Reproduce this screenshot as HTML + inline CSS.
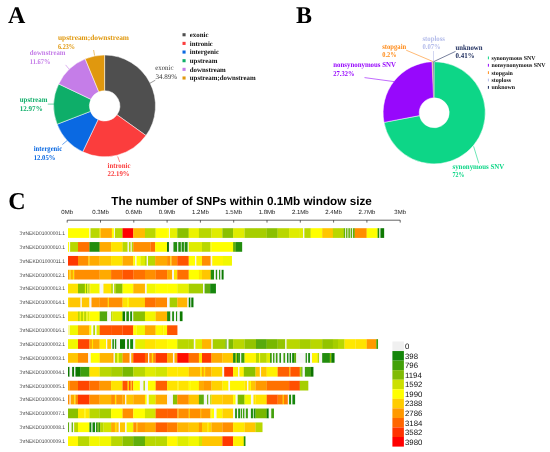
<!DOCTYPE html>
<html lang="en"><head><meta charset="utf-8"><title>SNP annotation and density</title>
<style>html,body{margin:0;padding:0;background:#fff}body{width:550px;height:452px;overflow:hidden}svg{display:block}text{text-rendering:geometricPrecision}.sb{font-family:'Liberation Serif','Times New Roman',serif;font-weight:bold}.sr{font-family:'Liberation Serif','Times New Roman',serif}.ss{font-family:'Liberation Sans',Arial,Helvetica,sans-serif}</style></head><body>
<svg width="550" height="452" viewBox="0 0 550 452">
<rect width="550" height="452" fill="#fff"/>
<text class="sb" x="8.0" y="22.5" font-size="24" fill="#000">A</text>
<text class="sb" x="296.0" y="22.5" font-size="24" fill="#000">B</text>
<text class="sb" x="8.3" y="208.6" font-size="24" fill="#000">C</text>
<g id="pieA">
<path d="M104.60 55.00A50.90 50.90 0 0 1 145.98 135.53L116.96 114.75A15.20 15.20 0 0 0 104.60 90.70Z" fill="#4f4f4f" stroke="#fff" stroke-width="0.5"/>
<path d="M145.98 135.53A50.90 50.90 0 0 1 82.70 151.85L98.06 119.62A15.20 15.20 0 0 0 116.96 114.75Z" fill="#fb3d3d" stroke="#fff" stroke-width="0.5"/>
<path d="M82.70 151.85A50.90 50.90 0 0 1 57.12 124.25L90.42 111.38A15.20 15.20 0 0 0 98.06 119.62Z" fill="#0a69e2" stroke="#fff" stroke-width="0.5"/>
<path d="M57.12 124.25A50.90 50.90 0 0 1 58.68 83.94L90.89 99.34A15.20 15.20 0 0 0 90.42 111.38Z" fill="#0eae69" stroke="#fff" stroke-width="0.5"/>
<path d="M58.68 83.94A50.90 50.90 0 0 1 85.18 58.85L98.80 91.85A15.20 15.20 0 0 0 90.89 99.34Z" fill="#c57de8" stroke="#fff" stroke-width="0.5"/>
<path d="M85.18 58.85A50.90 50.90 0 0 1 104.60 55.00L104.60 90.70A15.20 15.20 0 0 0 98.80 91.85Z" fill="#e0980e" stroke="#fff" stroke-width="0.5"/>
<line x1="150.0" y1="83.2" x2="155.3" y2="80.2" stroke="#555" stroke-width="0.6"/>
<line x1="93.6" y1="50.0" x2="94.6" y2="55.6" stroke="#e0980e" stroke-width="0.6"/>
<line x1="65.6" y1="64.9" x2="68.9" y2="68.9" stroke="#c57de8" stroke-width="0.6"/>
<line x1="47.8" y1="104.1" x2="54.0" y2="104.1" stroke="#0eae69" stroke-width="0.6"/>
<line x1="62.3" y1="144.6" x2="67.6" y2="140.2" stroke="#0a69e2" stroke-width="0.6"/>
<line x1="117.7" y1="156.5" x2="119.7" y2="162.0" stroke="#fb3d3d" stroke-width="0.6"/>
<text class="sr" x="155.2" y="69.9" font-size="7.10" fill="#3a3a3a" textLength="18.3" lengthAdjust="spacingAndGlyphs">exonic</text>
<text class="sr" x="155.4" y="78.6" font-size="7.10" fill="#3a3a3a" textLength="21.8" lengthAdjust="spacingAndGlyphs">34.89%</text>
<text class="sb" x="58.0" y="39.9" font-size="7.50" fill="#e0980e" textLength="71.0" lengthAdjust="spacingAndGlyphs">upstream;downstream</text>
<text class="sb" x="58.0" y="48.5" font-size="7.40" fill="#e0980e" textLength="17.0" lengthAdjust="spacingAndGlyphs">6.23%</text>
<text class="sb" x="29.8" y="55.0" font-size="7.40" fill="#c57de8" textLength="35.7" lengthAdjust="spacingAndGlyphs">downstream</text>
<text class="sb" x="29.8" y="64.0" font-size="7.40" fill="#c57de8" textLength="20.7" lengthAdjust="spacingAndGlyphs">11.67%</text>
<text class="sb" x="19.8" y="101.7" font-size="7.40" fill="#0eae69" textLength="27.7" lengthAdjust="spacingAndGlyphs">upstream</text>
<text class="sb" x="19.8" y="110.9" font-size="7.40" fill="#0eae69" textLength="22.9" lengthAdjust="spacingAndGlyphs">12.97%</text>
<text class="sb" x="33.7" y="150.5" font-size="7.40" fill="#0a69e2" textLength="28.4" lengthAdjust="spacingAndGlyphs">intergenic</text>
<text class="sb" x="33.7" y="159.6" font-size="7.40" fill="#0a69e2" textLength="21.8" lengthAdjust="spacingAndGlyphs">12.05%</text>
<text class="sb" x="107.5" y="167.5" font-size="7.40" fill="#fb3d3d" textLength="22.9" lengthAdjust="spacingAndGlyphs">intronic</text>
<text class="sb" x="107.5" y="175.7" font-size="7.40" fill="#fb3d3d" textLength="22.2" lengthAdjust="spacingAndGlyphs">22.19%</text>
<rect x="182.5" y="33.20" width="3.1" height="3.1" fill="#4f4f4f"/>
<text class="sb" x="189.8" y="37.00" font-size="6.85" fill="#111">exonic</text>
<rect x="182.5" y="41.85" width="3.1" height="3.1" fill="#fb3d3d"/>
<text class="sb" x="189.8" y="45.65" font-size="6.85" fill="#111">intronic</text>
<rect x="182.5" y="50.50" width="3.1" height="3.1" fill="#0a69e2"/>
<text class="sb" x="189.8" y="54.30" font-size="6.85" fill="#111">intergenic</text>
<rect x="182.5" y="59.15" width="3.1" height="3.1" fill="#0eae69"/>
<text class="sb" x="189.8" y="62.95" font-size="6.85" fill="#111">upstream</text>
<rect x="182.5" y="67.80" width="3.1" height="3.1" fill="#c57de8"/>
<text class="sb" x="189.8" y="71.60" font-size="6.85" fill="#111">downstream</text>
<rect x="182.5" y="76.45" width="3.1" height="3.1" fill="#e0980e"/>
<text class="sb" x="189.8" y="80.25" font-size="6.85" fill="#111">upstream;downstream</text>
</g>
<g id="pieB">
<path d="M434.20 61.70A51.10 51.10 0 1 1 384.01 122.38L419.47 115.61A15.00 15.00 0 1 0 434.20 97.80Z" fill="#0dd687" stroke="#fff" stroke-width="0.5"/>
<path d="M384.01 122.38A51.10 51.10 0 0 1 432.02 61.75L433.56 97.81A15.00 15.00 0 0 0 419.47 115.61Z" fill="#9708fc" stroke="#fff" stroke-width="0.5"/>
<path d="M432.02 61.75A51.10 51.10 0 0 1 432.66 61.72L433.75 97.81A15.00 15.00 0 0 0 433.56 97.81Z" fill="#ff8c1a" stroke="#fff" stroke-width="0" fill-opacity="0.5"/>
<path d="M432.66 61.72A51.10 51.10 0 0 1 432.88 61.72L433.81 97.80A15.00 15.00 0 0 0 433.75 97.81Z" fill="#b4bcea" stroke="#fff" stroke-width="0" fill-opacity="0.5"/>
<path d="M432.88 61.72A51.10 51.10 0 0 1 434.20 61.70L434.20 97.80A15.00 15.00 0 0 0 433.81 97.80Z" fill="#1c2b5c" stroke="#fff" stroke-width="0" fill-opacity="0.5"/>
<line x1="406.2" y1="50.2" x2="433.3" y2="61.7" stroke="#ff8c1a" stroke-width="0.6"/>
<line x1="433.5" y1="51.0" x2="433.5" y2="61.8" stroke="#b4bcea" stroke-width="0.6"/>
<line x1="455.5" y1="51.4" x2="433.6" y2="61.7" stroke="#1c2b5c" stroke-width="0.6"/>
<line x1="364.5" y1="77.6" x2="394.0" y2="81.6" stroke="#9708fc" stroke-width="0.6"/>
<line x1="473.6" y1="146.3" x2="478.8" y2="163.3" stroke="#0dd687" stroke-width="0.6"/>
<text class="sb" x="382.2" y="48.7" font-size="7.50" fill="#ff8c1a" textLength="24.0" lengthAdjust="spacingAndGlyphs">stopgain</text>
<text class="sb" x="382.2" y="56.6" font-size="7.50" fill="#ff8c1a" textLength="14.4" lengthAdjust="spacingAndGlyphs">0.2%</text>
<text class="sb" x="422.4" y="40.5" font-size="7.50" fill="#b4bcea" textLength="22.5" lengthAdjust="spacingAndGlyphs">stoploss</text>
<text class="sb" x="422.4" y="49.0" font-size="7.50" fill="#b4bcea" textLength="18.4" lengthAdjust="spacingAndGlyphs">0.07%</text>
<text class="sb" x="455.5" y="49.9" font-size="7.50" fill="#1c2b5c" textLength="27.0" lengthAdjust="spacingAndGlyphs">unknown</text>
<text class="sb" x="455.5" y="57.6" font-size="7.50" fill="#1c2b5c" textLength="19.1" lengthAdjust="spacingAndGlyphs">0.41%</text>
<text class="sb" x="333.3" y="67.0" font-size="7.50" fill="#9708fc" textLength="62.6" lengthAdjust="spacingAndGlyphs">nonsynonymous SNV</text>
<text class="sb" x="333.3" y="75.9" font-size="7.50" fill="#9708fc" textLength="21.2" lengthAdjust="spacingAndGlyphs">27.32%</text>
<text class="sb" x="452.5" y="168.8" font-size="7.50" fill="#0dd687" textLength="51.7" lengthAdjust="spacingAndGlyphs">synonymous SNV</text>
<text class="sb" x="452.5" y="177.2" font-size="7.50" fill="#0dd687" textLength="12.0" lengthAdjust="spacingAndGlyphs">72%</text>
<rect x="487.9" y="56.50" width="1.0" height="2.8" fill="#0dd687"/>
<text class="sb" x="491.4" y="59.80" font-size="6.1" fill="#111" textLength="44.2" lengthAdjust="spacingAndGlyphs">synonymous SNV</text>
<rect x="487.9" y="63.87" width="1.0" height="2.8" fill="#9708fc"/>
<text class="sb" x="491.4" y="67.17" font-size="6.1" fill="#111" textLength="54.2" lengthAdjust="spacingAndGlyphs">nonsynonymous SNV</text>
<rect x="487.9" y="71.24" width="1.0" height="2.8" fill="#ff8c1a"/>
<text class="sb" x="491.4" y="74.54" font-size="6.1" fill="#111" textLength="21.5" lengthAdjust="spacingAndGlyphs">stopgain</text>
<rect x="487.9" y="78.61" width="1.0" height="2.8" fill="#b4bcea"/>
<text class="sb" x="491.4" y="81.91" font-size="6.1" fill="#111" textLength="19.6" lengthAdjust="spacingAndGlyphs">stoploss</text>
<rect x="487.9" y="85.98" width="1.0" height="2.8" fill="#1c2b5c"/>
<text class="sb" x="491.4" y="89.28" font-size="6.1" fill="#111" textLength="23.7" lengthAdjust="spacingAndGlyphs">unknown</text>
</g>
<g id="panelC">
<text class="ss" x="241.6" y="204.5" font-size="11.72" font-weight="bold" text-anchor="middle" fill="#000">The number of SNPs within 0.1Mb window size</text>
<path d="M67.20 220.2H400.20" stroke="#222" stroke-width="0.7" fill="none"/>
<text class="ss" x="67.20" y="213.5" font-size="6.0" text-anchor="middle" fill="#222">0Mb</text>
<text class="ss" x="100.50" y="213.5" font-size="6.0" text-anchor="middle" fill="#222">0.3Mb</text>
<text class="ss" x="133.80" y="213.5" font-size="6.0" text-anchor="middle" fill="#222">0.6Mb</text>
<text class="ss" x="167.10" y="213.5" font-size="6.0" text-anchor="middle" fill="#222">0.9Mb</text>
<text class="ss" x="200.40" y="213.5" font-size="6.0" text-anchor="middle" fill="#222">1.2Mb</text>
<text class="ss" x="233.70" y="213.5" font-size="6.0" text-anchor="middle" fill="#222">1.5Mb</text>
<text class="ss" x="267.00" y="213.5" font-size="6.0" text-anchor="middle" fill="#222">1.8Mb</text>
<text class="ss" x="300.30" y="213.5" font-size="6.0" text-anchor="middle" fill="#222">2.1Mb</text>
<text class="ss" x="333.60" y="213.5" font-size="6.0" text-anchor="middle" fill="#222">2.4Mb</text>
<text class="ss" x="366.90" y="213.5" font-size="6.0" text-anchor="middle" fill="#222">2.7Mb</text>
<text class="ss" x="400.20" y="213.5" font-size="6.0" text-anchor="middle" fill="#222">3Mb</text>
<path d="M67.20 220.2V222.6M100.50 220.2V222.6M133.80 220.2V222.6M167.10 220.2V222.6M200.40 220.2V222.6M233.70 220.2V222.6M267.00 220.2V222.6M300.30 220.2V222.6M333.60 220.2V222.6M366.90 220.2V222.6M400.20 220.2V222.6" stroke="#222" stroke-width="0.7" fill="none"/>
<clipPath id="cl"><rect x="19.7" y="225" width="50" height="227"/></clipPath>
<g clip-path="url(#cl)">
<text class="ss" x="65.0" y="234.90" font-size="5.2" textLength="47.4" lengthAdjust="spacingAndGlyphs" text-anchor="end" fill="#444">ChrNEKD01000001.1</text>
<text class="ss" x="65.0" y="248.77" font-size="5.2" textLength="47.4" lengthAdjust="spacingAndGlyphs" text-anchor="end" fill="#444">ChrNEKD01000010.1</text>
<text class="ss" x="65.0" y="262.65" font-size="5.2" textLength="47.4" lengthAdjust="spacingAndGlyphs" text-anchor="end" fill="#444">ChrNEKD01000011.1</text>
<text class="ss" x="65.0" y="276.52" font-size="5.2" textLength="47.4" lengthAdjust="spacingAndGlyphs" text-anchor="end" fill="#444">ChrNEKD01000012.1</text>
<text class="ss" x="65.0" y="290.39" font-size="5.2" textLength="47.4" lengthAdjust="spacingAndGlyphs" text-anchor="end" fill="#444">ChrNEKD01000013.1</text>
<text class="ss" x="65.0" y="304.27" font-size="5.2" textLength="47.4" lengthAdjust="spacingAndGlyphs" text-anchor="end" fill="#444">ChrNEKD01000014.1</text>
<text class="ss" x="65.0" y="318.14" font-size="5.2" textLength="47.4" lengthAdjust="spacingAndGlyphs" text-anchor="end" fill="#444">ChrNEKD01000015.1</text>
<text class="ss" x="65.0" y="332.01" font-size="5.2" textLength="47.4" lengthAdjust="spacingAndGlyphs" text-anchor="end" fill="#444">ChrNEKD01000016.1</text>
<text class="ss" x="65.0" y="345.88" font-size="5.2" textLength="47.4" lengthAdjust="spacingAndGlyphs" text-anchor="end" fill="#444">ChrNEKD01000002.1</text>
<text class="ss" x="65.0" y="359.76" font-size="5.2" textLength="47.4" lengthAdjust="spacingAndGlyphs" text-anchor="end" fill="#444">ChrNEKD01000003.1</text>
<text class="ss" x="65.0" y="373.63" font-size="5.2" textLength="47.4" lengthAdjust="spacingAndGlyphs" text-anchor="end" fill="#444">ChrNEKD01000004.1</text>
<text class="ss" x="65.0" y="387.50" font-size="5.2" textLength="47.4" lengthAdjust="spacingAndGlyphs" text-anchor="end" fill="#444">ChrNEKD01000005.1</text>
<text class="ss" x="65.0" y="401.38" font-size="5.2" textLength="47.4" lengthAdjust="spacingAndGlyphs" text-anchor="end" fill="#444">ChrNEKD01000006.1</text>
<text class="ss" x="65.0" y="415.25" font-size="5.2" textLength="47.4" lengthAdjust="spacingAndGlyphs" text-anchor="end" fill="#444">ChrNEKD01000007.1</text>
<text class="ss" x="65.0" y="429.12" font-size="5.2" textLength="47.4" lengthAdjust="spacingAndGlyphs" text-anchor="end" fill="#444">ChrNEKD01000008.1</text>
<text class="ss" x="65.0" y="443.00" font-size="5.2" textLength="47.4" lengthAdjust="spacingAndGlyphs" text-anchor="end" fill="#444">ChrNEKD01000009.1</text>
</g>
<filter id="bl" x="-2%" y="-2%" width="104%" height="104%"><feGaussianBlur stdDeviation="0.55 0.3"/></filter>
<g filter="url(#bl)">
<rect x="68.00" y="228.20" width="21.60" height="9.70" fill="#ffff00"/>
<rect x="89.45" y="228.20" width="1.17" height="9.70" fill="#f6f6f6"/>
<rect x="90.47" y="228.20" width="9.31" height="9.70" fill="#b9d702"/>
<rect x="99.64" y="228.20" width="1.17" height="9.70" fill="#ffe300"/>
<rect x="100.65" y="228.20" width="11.35" height="9.70" fill="#ffaa00"/>
<rect x="111.85" y="228.20" width="2.19" height="9.70" fill="#ffff00"/>
<rect x="113.89" y="228.20" width="1.17" height="9.70" fill="#f6f6f6"/>
<rect x="114.91" y="228.20" width="7.79" height="9.70" fill="#b9d702"/>
<rect x="122.55" y="228.20" width="10.84" height="9.70" fill="#ff0000"/>
<rect x="133.24" y="228.20" width="11.86" height="9.70" fill="#ffbb00"/>
<rect x="144.95" y="228.20" width="10.84" height="9.70" fill="#b9d702"/>
<rect x="155.64" y="228.20" width="11.60" height="9.70" fill="#ffff00"/>
<rect x="167.09" y="228.20" width="1.93" height="9.70" fill="#ffff00"/>
<rect x="168.87" y="228.20" width="1.17" height="9.70" fill="#f6f6f6"/>
<rect x="169.89" y="228.20" width="7.53" height="9.70" fill="#e6f000"/>
<rect x="177.27" y="228.20" width="11.60" height="9.70" fill="#8ac005"/>
<rect x="188.73" y="228.20" width="10.33" height="9.70" fill="#ecf300"/>
<rect x="198.91" y="228.20" width="3.24" height="9.70" fill="#b9d702"/>
<rect x="202.00" y="228.20" width="9.60" height="9.70" fill="#b9d702"/>
<rect x="211.45" y="228.20" width="11.10" height="9.70" fill="#dfec00"/>
<rect x="222.40" y="228.20" width="10.84" height="9.70" fill="#8ac005"/>
<rect x="233.09" y="228.20" width="11.60" height="9.70" fill="#dfec00"/>
<rect x="244.55" y="228.20" width="11.60" height="9.70" fill="#a6ce03"/>
<rect x="256.00" y="228.20" width="10.84" height="9.70" fill="#a6ce03"/>
<rect x="266.69" y="228.20" width="11.10" height="9.70" fill="#8ac005"/>
<rect x="277.64" y="228.20" width="11.60" height="9.70" fill="#b9d702"/>
<rect x="289.09" y="228.20" width="10.84" height="9.70" fill="#dfec00"/>
<rect x="299.78" y="228.20" width="3.46" height="9.70" fill="#dfec00"/>
<rect x="303.09" y="228.20" width="1.42" height="9.70" fill="#f6f6f6"/>
<rect x="304.36" y="228.20" width="6.51" height="9.70" fill="#b9d702"/>
<rect x="310.73" y="228.20" width="11.60" height="9.70" fill="#ffff00"/>
<rect x="322.18" y="228.20" width="10.84" height="9.70" fill="#ffc600"/>
<rect x="332.87" y="228.20" width="5.28" height="9.70" fill="#b9d702"/>
<rect x="338.00" y="228.20" width="5.93" height="9.70" fill="#b9d702"/>
<rect x="343.78" y="228.20" width="1.68" height="9.70" fill="#61ae07"/>
<rect x="345.31" y="228.20" width="0.91" height="9.70" fill="#f6f6f6"/>
<rect x="346.07" y="228.20" width="1.68" height="9.70" fill="#61ae07"/>
<rect x="347.60" y="228.20" width="0.91" height="9.70" fill="#f6f6f6"/>
<rect x="348.36" y="228.20" width="1.68" height="9.70" fill="#61ae07"/>
<rect x="349.89" y="228.20" width="0.91" height="9.70" fill="#f6f6f6"/>
<rect x="350.65" y="228.20" width="1.68" height="9.70" fill="#61ae07"/>
<rect x="352.18" y="228.20" width="0.91" height="9.70" fill="#f6f6f6"/>
<rect x="352.95" y="228.20" width="1.93" height="9.70" fill="#61ae07"/>
<rect x="354.73" y="228.20" width="12.11" height="9.70" fill="#ff8e00"/>
<rect x="366.69" y="228.20" width="11.10" height="9.70" fill="#ffff00"/>
<rect x="377.64" y="228.20" width="1.93" height="9.70" fill="#208c0a"/>
<rect x="379.42" y="228.20" width="1.17" height="9.70" fill="#f6f6f6"/>
<rect x="380.44" y="228.20" width="3.71" height="9.70" fill="#0c7906"/>
<rect x="68.00" y="242.07" width="1.24" height="9.70" fill="#ffff00"/>
<rect x="69.09" y="242.07" width="1.17" height="9.70" fill="#f6f6f6"/>
<rect x="70.11" y="242.07" width="8.04" height="9.70" fill="#b9d702"/>
<rect x="78.00" y="242.07" width="11.60" height="9.70" fill="#ff7100"/>
<rect x="89.45" y="242.07" width="10.33" height="9.70" fill="#208c0a"/>
<rect x="99.64" y="242.07" width="11.60" height="9.70" fill="#ffaa00"/>
<rect x="111.09" y="242.07" width="11.60" height="9.70" fill="#ffe300"/>
<rect x="122.55" y="242.07" width="5.24" height="9.70" fill="#b9d702"/>
<rect x="127.64" y="242.07" width="1.42" height="9.70" fill="#f6f6f6"/>
<rect x="128.91" y="242.07" width="1.93" height="9.70" fill="#b9d702"/>
<rect x="130.69" y="242.07" width="1.17" height="9.70" fill="#f6f6f6"/>
<rect x="131.71" y="242.07" width="1.68" height="9.70" fill="#b9d702"/>
<rect x="133.24" y="242.07" width="17.46" height="9.70" fill="#ff8e00"/>
<rect x="150.55" y="242.07" width="4.73" height="9.70" fill="#ff7100"/>
<rect x="155.13" y="242.07" width="12.11" height="9.70" fill="#ffff00"/>
<rect x="167.09" y="242.07" width="1.93" height="9.70" fill="#006400"/>
<rect x="168.87" y="242.07" width="4.73" height="9.70" fill="#f6f6f6"/>
<rect x="173.45" y="242.07" width="3.97" height="9.70" fill="#208c0a"/>
<rect x="177.27" y="242.07" width="1.17" height="9.70" fill="#f6f6f6"/>
<rect x="178.29" y="242.07" width="2.70" height="9.70" fill="#208c0a"/>
<rect x="180.84" y="242.07" width="0.91" height="9.70" fill="#f6f6f6"/>
<rect x="181.60" y="242.07" width="2.44" height="9.70" fill="#208c0a"/>
<rect x="183.89" y="242.07" width="0.91" height="9.70" fill="#f6f6f6"/>
<rect x="184.65" y="242.07" width="3.20" height="9.70" fill="#208c0a"/>
<rect x="187.71" y="242.07" width="1.17" height="9.70" fill="#f6f6f6"/>
<rect x="188.73" y="242.07" width="10.33" height="9.70" fill="#dfec00"/>
<rect x="198.91" y="242.07" width="3.24" height="9.70" fill="#dfec00"/>
<rect x="202.00" y="242.07" width="8.33" height="9.70" fill="#b9d702"/>
<rect x="210.18" y="242.07" width="1.42" height="9.70" fill="#f2f700"/>
<rect x="211.45" y="242.07" width="21.79" height="9.70" fill="#ffff00"/>
<rect x="233.09" y="242.07" width="2.70" height="9.70" fill="#61ae07"/>
<rect x="235.64" y="242.07" width="6.51" height="9.70" fill="#208c0a"/>
<rect x="68.00" y="255.95" width="10.15" height="9.70" fill="#ff3900"/>
<rect x="78.00" y="255.95" width="10.33" height="9.70" fill="#ff8e00"/>
<rect x="88.18" y="255.95" width="1.42" height="9.70" fill="#ffc600"/>
<rect x="89.45" y="255.95" width="10.33" height="9.70" fill="#ffaa00"/>
<rect x="99.64" y="255.95" width="11.60" height="9.70" fill="#ffc600"/>
<rect x="111.09" y="255.95" width="11.60" height="9.70" fill="#ffe300"/>
<rect x="122.55" y="255.95" width="10.84" height="9.70" fill="#ffaa00"/>
<rect x="133.24" y="255.95" width="2.19" height="9.70" fill="#ffff00"/>
<rect x="135.27" y="255.95" width="1.42" height="9.70" fill="#f6f6f6"/>
<rect x="136.55" y="255.95" width="3.97" height="9.70" fill="#ffff00"/>
<rect x="140.36" y="255.95" width="4.73" height="9.70" fill="#dfec00"/>
<rect x="144.95" y="255.95" width="1.93" height="9.70" fill="#b9d702"/>
<rect x="146.73" y="255.95" width="1.42" height="9.70" fill="#f6f6f6"/>
<rect x="148.00" y="255.95" width="7.28" height="9.70" fill="#b9d702"/>
<rect x="155.13" y="255.95" width="12.11" height="9.70" fill="#ffaa00"/>
<rect x="167.09" y="255.95" width="3.46" height="9.70" fill="#ff8e00"/>
<rect x="170.40" y="255.95" width="1.17" height="9.70" fill="#ffe300"/>
<rect x="171.42" y="255.95" width="6.00" height="9.70" fill="#ff8e00"/>
<rect x="177.27" y="255.95" width="11.60" height="9.70" fill="#ff5500"/>
<rect x="188.73" y="255.95" width="6.51" height="9.70" fill="#ffff00"/>
<rect x="195.09" y="255.95" width="1.42" height="9.70" fill="#f6f6f6"/>
<rect x="196.36" y="255.95" width="5.79" height="9.70" fill="#fff100"/>
<rect x="202.00" y="255.95" width="8.84" height="9.70" fill="#ff8e00"/>
<rect x="210.69" y="255.95" width="1.68" height="9.70" fill="#f6f6f6"/>
<rect x="212.22" y="255.95" width="10.84" height="9.70" fill="#fff600"/>
<rect x="222.91" y="255.95" width="9.06" height="9.70" fill="#f2f700"/>
<rect x="68.00" y="269.82" width="1.75" height="9.70" fill="#ffaa00"/>
<rect x="69.60" y="269.82" width="1.17" height="9.70" fill="#ffe300"/>
<rect x="70.62" y="269.82" width="2.44" height="9.70" fill="#ffaa00"/>
<rect x="72.91" y="269.82" width="1.42" height="9.70" fill="#ffe300"/>
<rect x="74.18" y="269.82" width="3.97" height="9.70" fill="#ff8e00"/>
<rect x="78.00" y="269.82" width="21.79" height="9.70" fill="#ff8e00"/>
<rect x="99.64" y="269.82" width="11.60" height="9.70" fill="#ffaa00"/>
<rect x="111.09" y="269.82" width="11.60" height="9.70" fill="#ff7100"/>
<rect x="122.55" y="269.82" width="10.84" height="9.70" fill="#ff5500"/>
<rect x="133.24" y="269.82" width="11.86" height="9.70" fill="#ff7100"/>
<rect x="144.95" y="269.82" width="10.84" height="9.70" fill="#ff8e00"/>
<rect x="155.64" y="269.82" width="11.60" height="9.70" fill="#ff7100"/>
<rect x="167.09" y="269.82" width="5.24" height="9.70" fill="#ffaa00"/>
<rect x="172.18" y="269.82" width="1.93" height="9.70" fill="#f6f6f6"/>
<rect x="173.96" y="269.82" width="3.46" height="9.70" fill="#ffe300"/>
<rect x="177.27" y="269.82" width="11.60" height="9.70" fill="#ff7100"/>
<rect x="188.73" y="269.82" width="10.33" height="9.70" fill="#ffff00"/>
<rect x="198.91" y="269.82" width="3.24" height="9.70" fill="#ffe300"/>
<rect x="202.00" y="269.82" width="8.84" height="9.70" fill="#ffc600"/>
<rect x="210.69" y="269.82" width="3.46" height="9.70" fill="#208c0a"/>
<rect x="214.00" y="269.82" width="1.93" height="9.70" fill="#f6f6f6"/>
<rect x="215.78" y="269.82" width="1.68" height="9.70" fill="#208c0a"/>
<rect x="217.31" y="269.82" width="1.93" height="9.70" fill="#f6f6f6"/>
<rect x="219.09" y="269.82" width="1.42" height="9.70" fill="#208c0a"/>
<rect x="220.36" y="269.82" width="1.42" height="9.70" fill="#f6f6f6"/>
<rect x="221.64" y="269.82" width="1.93" height="9.70" fill="#0c7906"/>
<rect x="68.00" y="283.69" width="10.15" height="9.70" fill="#ffe300"/>
<rect x="78.00" y="283.69" width="7.02" height="9.70" fill="#8ac005"/>
<rect x="84.87" y="283.69" width="1.17" height="9.70" fill="#ffff00"/>
<rect x="85.89" y="283.69" width="1.68" height="9.70" fill="#8ac005"/>
<rect x="87.42" y="283.69" width="1.17" height="9.70" fill="#ffff00"/>
<rect x="88.44" y="283.69" width="1.17" height="9.70" fill="#8ac005"/>
<rect x="89.45" y="283.69" width="1.42" height="9.70" fill="#fff100"/>
<rect x="90.73" y="283.69" width="9.06" height="9.70" fill="#f2f700"/>
<rect x="99.64" y="283.69" width="3.97" height="9.70" fill="#f6f6f6"/>
<rect x="103.45" y="283.69" width="7.79" height="9.70" fill="#ffe300"/>
<rect x="111.09" y="283.69" width="1.93" height="9.70" fill="#b9d702"/>
<rect x="112.87" y="283.69" width="1.42" height="9.70" fill="#f6f6f6"/>
<rect x="114.15" y="283.69" width="1.68" height="9.70" fill="#b9d702"/>
<rect x="115.67" y="283.69" width="7.02" height="9.70" fill="#8ac005"/>
<rect x="122.55" y="283.69" width="10.84" height="9.70" fill="#ffff00"/>
<rect x="133.24" y="283.69" width="11.86" height="9.70" fill="#ffb500"/>
<rect x="144.95" y="283.69" width="1.93" height="9.70" fill="#f6f6f6"/>
<rect x="146.73" y="283.69" width="9.06" height="9.70" fill="#f2f700"/>
<rect x="155.64" y="283.69" width="11.60" height="9.70" fill="#ffff00"/>
<rect x="167.09" y="283.69" width="10.33" height="9.70" fill="#ffff00"/>
<rect x="177.27" y="283.69" width="11.60" height="9.70" fill="#e6f000"/>
<rect x="188.73" y="283.69" width="13.42" height="9.70" fill="#a6ce03"/>
<rect x="202.00" y="283.69" width="1.20" height="9.70" fill="#a6ce03"/>
<rect x="203.05" y="283.69" width="1.68" height="9.70" fill="#f6f6f6"/>
<rect x="204.58" y="283.69" width="5.75" height="9.70" fill="#61ae07"/>
<rect x="210.18" y="283.69" width="5.75" height="9.70" fill="#14860a"/>
<rect x="68.00" y="297.56" width="1.24" height="9.70" fill="#ffe300"/>
<rect x="69.09" y="297.56" width="11.60" height="9.70" fill="#ffc600"/>
<rect x="80.55" y="297.56" width="1.42" height="9.70" fill="#f6f6f6"/>
<rect x="81.82" y="297.56" width="7.79" height="9.70" fill="#ffc600"/>
<rect x="89.45" y="297.56" width="2.19" height="9.70" fill="#f6f6f6"/>
<rect x="91.49" y="297.56" width="8.30" height="9.70" fill="#ff9900"/>
<rect x="99.64" y="297.56" width="8.30" height="9.70" fill="#ff8e00"/>
<rect x="107.78" y="297.56" width="1.17" height="9.70" fill="#ffe300"/>
<rect x="108.80" y="297.56" width="13.90" height="9.70" fill="#ff8e00"/>
<rect x="122.55" y="297.56" width="5.24" height="9.70" fill="#ffe300"/>
<rect x="127.64" y="297.56" width="1.42" height="9.70" fill="#ffff00"/>
<rect x="128.91" y="297.56" width="16.19" height="9.70" fill="#ffd200"/>
<rect x="144.95" y="297.56" width="10.84" height="9.70" fill="#ff7100"/>
<rect x="155.64" y="297.56" width="11.60" height="9.70" fill="#ff8800"/>
<rect x="167.09" y="297.56" width="2.70" height="9.70" fill="#f6f6f6"/>
<rect x="169.64" y="297.56" width="7.79" height="9.70" fill="#a6ce03"/>
<rect x="177.27" y="297.56" width="10.33" height="9.70" fill="#ffb500"/>
<rect x="187.45" y="297.56" width="1.42" height="9.70" fill="#f6f6f6"/>
<rect x="188.73" y="297.56" width="1.93" height="9.70" fill="#0c7906"/>
<rect x="190.51" y="297.56" width="0.91" height="9.70" fill="#f6f6f6"/>
<rect x="191.27" y="297.56" width="2.19" height="9.70" fill="#0c7906"/>
<rect x="68.00" y="311.44" width="10.15" height="9.70" fill="#ffe300"/>
<rect x="78.00" y="311.44" width="1.93" height="9.70" fill="#b9d702"/>
<rect x="79.78" y="311.44" width="1.17" height="9.70" fill="#fff900"/>
<rect x="80.80" y="311.44" width="2.44" height="9.70" fill="#b9d702"/>
<rect x="83.09" y="311.44" width="1.17" height="9.70" fill="#fff900"/>
<rect x="84.11" y="311.44" width="2.44" height="9.70" fill="#b9d702"/>
<rect x="86.40" y="311.44" width="1.17" height="9.70" fill="#fff900"/>
<rect x="87.42" y="311.44" width="2.19" height="9.70" fill="#dfec00"/>
<rect x="89.45" y="311.44" width="10.33" height="9.70" fill="#ffff00"/>
<rect x="99.64" y="311.44" width="7.79" height="9.70" fill="#52a708"/>
<rect x="107.27" y="311.44" width="3.97" height="9.70" fill="#f6f6f6"/>
<rect x="111.09" y="311.44" width="1.42" height="9.70" fill="#b9d702"/>
<rect x="112.36" y="311.44" width="10.33" height="9.70" fill="#dfec00"/>
<rect x="122.55" y="311.44" width="2.70" height="9.70" fill="#0c7906"/>
<rect x="125.09" y="311.44" width="1.42" height="9.70" fill="#f6f6f6"/>
<rect x="126.36" y="311.44" width="2.70" height="9.70" fill="#208c0a"/>
<rect x="128.91" y="311.44" width="1.42" height="9.70" fill="#f6f6f6"/>
<rect x="130.18" y="311.44" width="2.19" height="9.70" fill="#208c0a"/>
<rect x="132.22" y="311.44" width="1.17" height="9.70" fill="#f6f6f6"/>
<rect x="133.24" y="311.44" width="11.86" height="9.70" fill="#8ac005"/>
<rect x="144.95" y="311.44" width="10.84" height="9.70" fill="#f2f700"/>
<rect x="155.64" y="311.44" width="11.60" height="9.70" fill="#ffb500"/>
<rect x="167.09" y="311.44" width="3.46" height="9.70" fill="#208c0a"/>
<rect x="170.40" y="311.44" width="1.93" height="9.70" fill="#f6f6f6"/>
<rect x="172.18" y="311.44" width="1.93" height="9.70" fill="#208c0a"/>
<rect x="173.96" y="311.44" width="2.19" height="9.70" fill="#f6f6f6"/>
<rect x="176.00" y="311.44" width="1.42" height="9.70" fill="#208c0a"/>
<rect x="177.27" y="311.44" width="2.70" height="9.70" fill="#f6f6f6"/>
<rect x="179.82" y="311.44" width="2.70" height="9.70" fill="#0c7906"/>
<rect x="68.00" y="325.31" width="0.73" height="9.70" fill="#ffff00"/>
<rect x="68.58" y="325.31" width="1.17" height="9.70" fill="#f6f6f6"/>
<rect x="69.60" y="325.31" width="8.55" height="9.70" fill="#f2f700"/>
<rect x="78.00" y="325.31" width="11.60" height="9.70" fill="#ffaa00"/>
<rect x="89.45" y="325.31" width="2.19" height="9.70" fill="#ffff00"/>
<rect x="91.49" y="325.31" width="1.93" height="9.70" fill="#f6f6f6"/>
<rect x="93.27" y="325.31" width="1.93" height="9.70" fill="#b9d702"/>
<rect x="95.05" y="325.31" width="1.68" height="9.70" fill="#f6f6f6"/>
<rect x="96.58" y="325.31" width="3.20" height="9.70" fill="#dfec00"/>
<rect x="99.64" y="325.31" width="11.60" height="9.70" fill="#ff5500"/>
<rect x="111.09" y="325.31" width="11.60" height="9.70" fill="#ff5500"/>
<rect x="122.55" y="325.31" width="10.84" height="9.70" fill="#ff4a00"/>
<rect x="133.24" y="325.31" width="3.46" height="9.70" fill="#ffff00"/>
<rect x="136.55" y="325.31" width="8.55" height="9.70" fill="#f2f700"/>
<rect x="144.95" y="325.31" width="10.84" height="9.70" fill="#ffaa00"/>
<rect x="155.64" y="325.31" width="6.51" height="9.70" fill="#fff900"/>
<rect x="162.00" y="325.31" width="1.42" height="9.70" fill="#ffee00"/>
<rect x="163.27" y="325.31" width="3.97" height="9.70" fill="#fff900"/>
<rect x="167.09" y="325.31" width="10.33" height="9.70" fill="#ff5500"/>
<rect x="68.00" y="339.18" width="10.15" height="9.70" fill="#f2f700"/>
<rect x="78.00" y="339.18" width="11.60" height="9.70" fill="#ff4400"/>
<rect x="89.45" y="339.18" width="2.70" height="9.70" fill="#ffaa00"/>
<rect x="92.00" y="339.18" width="1.17" height="9.70" fill="#ffe300"/>
<rect x="93.02" y="339.18" width="6.77" height="9.70" fill="#ffaa00"/>
<rect x="99.64" y="339.18" width="6.51" height="9.70" fill="#fff100"/>
<rect x="106.00" y="339.18" width="1.42" height="9.70" fill="#f6f6f6"/>
<rect x="107.27" y="339.18" width="3.97" height="9.70" fill="#ffc600"/>
<rect x="111.09" y="339.18" width="1.42" height="9.70" fill="#f6f6f6"/>
<rect x="112.36" y="339.18" width="1.68" height="9.70" fill="#208c0a"/>
<rect x="113.89" y="339.18" width="1.17" height="9.70" fill="#f6f6f6"/>
<rect x="114.91" y="339.18" width="1.68" height="9.70" fill="#208c0a"/>
<rect x="116.44" y="339.18" width="3.71" height="9.70" fill="#f6f6f6"/>
<rect x="120.00" y="339.18" width="5.24" height="9.70" fill="#0c7906"/>
<rect x="125.09" y="339.18" width="2.19" height="9.70" fill="#f6f6f6"/>
<rect x="127.13" y="339.18" width="1.93" height="9.70" fill="#14860a"/>
<rect x="128.91" y="339.18" width="1.42" height="9.70" fill="#f6f6f6"/>
<rect x="130.18" y="339.18" width="3.20" height="9.70" fill="#14860a"/>
<rect x="133.24" y="339.18" width="2.19" height="9.70" fill="#f6f6f6"/>
<rect x="135.27" y="339.18" width="9.82" height="9.70" fill="#e6f000"/>
<rect x="144.95" y="339.18" width="10.84" height="9.70" fill="#ffe300"/>
<rect x="155.64" y="339.18" width="11.60" height="9.70" fill="#fff100"/>
<rect x="167.09" y="339.18" width="10.33" height="9.70" fill="#ffff00"/>
<rect x="177.27" y="339.18" width="11.60" height="9.70" fill="#b9d702"/>
<rect x="188.73" y="339.18" width="5.24" height="9.70" fill="#b9d702"/>
<rect x="193.82" y="339.18" width="1.68" height="9.70" fill="#f6f6f6"/>
<rect x="195.35" y="339.18" width="6.80" height="9.70" fill="#dfec00"/>
<rect x="202.00" y="339.18" width="9.60" height="9.70" fill="#ffb500"/>
<rect x="211.45" y="339.18" width="1.42" height="9.70" fill="#f6f6f6"/>
<rect x="212.73" y="339.18" width="12.88" height="9.70" fill="#a6ce03"/>
<rect x="225.45" y="339.18" width="1.42" height="9.70" fill="#61ae07"/>
<rect x="226.73" y="339.18" width="1.93" height="9.70" fill="#f6f6f6"/>
<rect x="228.51" y="339.18" width="4.73" height="9.70" fill="#80bb06"/>
<rect x="233.09" y="339.18" width="11.60" height="9.70" fill="#b9d702"/>
<rect x="244.55" y="339.18" width="11.60" height="9.70" fill="#93c404"/>
<rect x="256.00" y="339.18" width="10.84" height="9.70" fill="#59aa07"/>
<rect x="266.69" y="339.18" width="11.10" height="9.70" fill="#78b806"/>
<rect x="277.64" y="339.18" width="7.79" height="9.70" fill="#93c404"/>
<rect x="285.27" y="339.18" width="1.42" height="9.70" fill="#f6f6f6"/>
<rect x="286.55" y="339.18" width="13.39" height="9.70" fill="#b9d702"/>
<rect x="299.78" y="339.18" width="11.10" height="9.70" fill="#a6ce03"/>
<rect x="310.73" y="339.18" width="11.60" height="9.70" fill="#b9d702"/>
<rect x="322.18" y="339.18" width="10.84" height="9.70" fill="#93c404"/>
<rect x="332.87" y="339.18" width="5.28" height="9.70" fill="#a6ce03"/>
<rect x="338.00" y="339.18" width="6.70" height="9.70" fill="#b9d702"/>
<rect x="344.55" y="339.18" width="11.10" height="9.70" fill="#ffe800"/>
<rect x="355.49" y="339.18" width="11.35" height="9.70" fill="#ffe300"/>
<rect x="366.69" y="339.18" width="9.82" height="9.70" fill="#ff9900"/>
<rect x="376.36" y="339.18" width="1.68" height="9.70" fill="#3c9d08"/>
<rect x="68.00" y="353.06" width="10.15" height="9.70" fill="#ffc600"/>
<rect x="78.00" y="353.06" width="10.33" height="9.70" fill="#ff8e00"/>
<rect x="88.18" y="353.06" width="2.70" height="9.70" fill="#f6f6f6"/>
<rect x="90.73" y="353.06" width="9.06" height="9.70" fill="#ffff00"/>
<rect x="99.64" y="353.06" width="11.60" height="9.70" fill="#ffb500"/>
<rect x="111.09" y="353.06" width="2.70" height="9.70" fill="#ffaa00"/>
<rect x="113.64" y="353.06" width="1.42" height="9.70" fill="#f6f6f6"/>
<rect x="114.91" y="353.06" width="2.70" height="9.70" fill="#b9d702"/>
<rect x="117.45" y="353.06" width="1.42" height="9.70" fill="#ffff00"/>
<rect x="118.73" y="353.06" width="3.97" height="9.70" fill="#b9d702"/>
<rect x="122.55" y="353.06" width="7.28" height="9.70" fill="#ff8e00"/>
<rect x="129.67" y="353.06" width="1.68" height="9.70" fill="#f6f6f6"/>
<rect x="131.20" y="353.06" width="2.19" height="9.70" fill="#ffaa00"/>
<rect x="133.24" y="353.06" width="11.86" height="9.70" fill="#ff3900"/>
<rect x="144.95" y="353.06" width="3.20" height="9.70" fill="#ff7100"/>
<rect x="148.00" y="353.06" width="1.42" height="9.70" fill="#f6f6f6"/>
<rect x="149.27" y="353.06" width="2.70" height="9.70" fill="#ff8e00"/>
<rect x="151.82" y="353.06" width="1.42" height="9.70" fill="#ffe300"/>
<rect x="153.09" y="353.06" width="2.70" height="9.70" fill="#ff8e00"/>
<rect x="155.64" y="353.06" width="11.60" height="9.70" fill="#ff3900"/>
<rect x="167.09" y="353.06" width="6.00" height="9.70" fill="#ffaa00"/>
<rect x="172.95" y="353.06" width="1.68" height="9.70" fill="#f6f6f6"/>
<rect x="174.47" y="353.06" width="2.95" height="9.70" fill="#ffaa00"/>
<rect x="177.27" y="353.06" width="11.60" height="9.70" fill="#ff0b00"/>
<rect x="188.73" y="353.06" width="10.33" height="9.70" fill="#ff7100"/>
<rect x="198.91" y="353.06" width="3.24" height="9.70" fill="#ffe300"/>
<rect x="202.00" y="353.06" width="9.60" height="9.70" fill="#ff3900"/>
<rect x="211.45" y="353.06" width="11.10" height="9.70" fill="#ffaa00"/>
<rect x="222.40" y="353.06" width="10.84" height="9.70" fill="#ffc600"/>
<rect x="233.09" y="353.06" width="2.70" height="9.70" fill="#208c0a"/>
<rect x="235.64" y="353.06" width="1.42" height="9.70" fill="#b9d702"/>
<rect x="236.91" y="353.06" width="1.93" height="9.70" fill="#208c0a"/>
<rect x="238.69" y="353.06" width="1.68" height="9.70" fill="#3c9d08"/>
<rect x="240.22" y="353.06" width="1.17" height="9.70" fill="#f6f6f6"/>
<rect x="241.24" y="353.06" width="3.46" height="9.70" fill="#3c9d08"/>
<rect x="244.55" y="353.06" width="11.60" height="9.70" fill="#fff600"/>
<rect x="256.00" y="353.06" width="3.20" height="9.70" fill="#b9d702"/>
<rect x="259.05" y="353.06" width="1.17" height="9.70" fill="#ffff00"/>
<rect x="260.07" y="353.06" width="6.77" height="9.70" fill="#b9d702"/>
<rect x="266.69" y="353.06" width="3.46" height="9.70" fill="#dfec00"/>
<rect x="270.00" y="353.06" width="1.93" height="9.70" fill="#3c9d08"/>
<rect x="271.78" y="353.06" width="1.42" height="9.70" fill="#f6f6f6"/>
<rect x="273.05" y="353.06" width="1.68" height="9.70" fill="#3c9d08"/>
<rect x="274.58" y="353.06" width="1.42" height="9.70" fill="#f6f6f6"/>
<rect x="275.85" y="353.06" width="1.93" height="9.70" fill="#3c9d08"/>
<rect x="277.64" y="353.06" width="1.93" height="9.70" fill="#f6f6f6"/>
<rect x="279.42" y="353.06" width="1.68" height="9.70" fill="#208c0a"/>
<rect x="280.95" y="353.06" width="2.70" height="9.70" fill="#f6f6f6"/>
<rect x="283.49" y="353.06" width="1.93" height="9.70" fill="#3c9d08"/>
<rect x="285.27" y="353.06" width="1.93" height="9.70" fill="#f6f6f6"/>
<rect x="287.05" y="353.06" width="1.68" height="9.70" fill="#14860a"/>
<rect x="288.58" y="353.06" width="1.17" height="9.70" fill="#f6f6f6"/>
<rect x="289.60" y="353.06" width="1.68" height="9.70" fill="#14860a"/>
<rect x="291.13" y="353.06" width="1.17" height="9.70" fill="#f6f6f6"/>
<rect x="292.15" y="353.06" width="2.19" height="9.70" fill="#14860a"/>
<rect x="294.18" y="353.06" width="2.19" height="9.70" fill="#61ae07"/>
<rect x="296.22" y="353.06" width="9.57" height="9.70" fill="#f6f6f6"/>
<rect x="305.64" y="353.06" width="1.42" height="9.70" fill="#208c0a"/>
<rect x="306.91" y="353.06" width="1.42" height="9.70" fill="#f6f6f6"/>
<rect x="308.18" y="353.06" width="1.93" height="9.70" fill="#14860a"/>
<rect x="309.96" y="353.06" width="2.19" height="9.70" fill="#f6f6f6"/>
<rect x="312.00" y="353.06" width="5.75" height="9.70" fill="#fff600"/>
<rect x="317.60" y="353.06" width="1.68" height="9.70" fill="#b9d702"/>
<rect x="319.13" y="353.06" width="3.20" height="9.70" fill="#f6f6f6"/>
<rect x="322.18" y="353.06" width="7.79" height="9.70" fill="#208c0a"/>
<rect x="329.82" y="353.06" width="1.68" height="9.70" fill="#8ac005"/>
<rect x="331.35" y="353.06" width="3.20" height="9.70" fill="#0c7906"/>
<rect x="68.00" y="366.93" width="1.75" height="9.70" fill="#0c7906"/>
<rect x="69.60" y="366.93" width="2.70" height="9.70" fill="#f6f6f6"/>
<rect x="72.15" y="366.93" width="2.19" height="9.70" fill="#0c7906"/>
<rect x="74.18" y="366.93" width="1.42" height="9.70" fill="#f6f6f6"/>
<rect x="75.45" y="366.93" width="5.24" height="9.70" fill="#0c7906"/>
<rect x="80.55" y="366.93" width="9.06" height="9.70" fill="#3c9d08"/>
<rect x="89.45" y="366.93" width="10.33" height="9.70" fill="#ffe300"/>
<rect x="99.64" y="366.93" width="11.60" height="9.70" fill="#b9d702"/>
<rect x="111.09" y="366.93" width="11.60" height="9.70" fill="#a6ce03"/>
<rect x="122.55" y="366.93" width="10.84" height="9.70" fill="#78b806"/>
<rect x="133.24" y="366.93" width="11.86" height="9.70" fill="#b9d702"/>
<rect x="144.95" y="366.93" width="10.84" height="9.70" fill="#dfec00"/>
<rect x="155.64" y="366.93" width="11.60" height="9.70" fill="#d2e400"/>
<rect x="167.09" y="366.93" width="10.33" height="9.70" fill="#ffe800"/>
<rect x="177.27" y="366.93" width="11.60" height="9.70" fill="#ffe800"/>
<rect x="188.73" y="366.93" width="11.60" height="9.70" fill="#ffb500"/>
<rect x="200.18" y="366.93" width="1.97" height="9.70" fill="#ffe300"/>
<rect x="202.00" y="366.93" width="1.97" height="9.70" fill="#ffaa00"/>
<rect x="203.82" y="366.93" width="1.42" height="9.70" fill="#ffe300"/>
<rect x="205.09" y="366.93" width="6.51" height="9.70" fill="#ffaa00"/>
<rect x="211.45" y="366.93" width="11.10" height="9.70" fill="#ffd200"/>
<rect x="222.40" y="366.93" width="1.93" height="9.70" fill="#f6f6f6"/>
<rect x="224.18" y="366.93" width="9.06" height="9.70" fill="#ff3900"/>
<rect x="233.09" y="366.93" width="5.24" height="9.70" fill="#fff100"/>
<rect x="238.18" y="366.93" width="1.42" height="9.70" fill="#f6f6f6"/>
<rect x="239.45" y="366.93" width="4.48" height="9.70" fill="#fff100"/>
<rect x="243.78" y="366.93" width="11.86" height="9.70" fill="#8ac005"/>
<rect x="255.49" y="366.93" width="4.48" height="9.70" fill="#ffc600"/>
<rect x="259.82" y="366.93" width="1.42" height="9.70" fill="#f6f6f6"/>
<rect x="261.09" y="366.93" width="5.75" height="9.70" fill="#ffc600"/>
<rect x="266.69" y="366.93" width="11.10" height="9.70" fill="#fff100"/>
<rect x="277.64" y="366.93" width="11.60" height="9.70" fill="#ff6000"/>
<rect x="289.09" y="366.93" width="1.42" height="9.70" fill="#ffaa00"/>
<rect x="290.36" y="366.93" width="9.57" height="9.70" fill="#ff5500"/>
<rect x="299.78" y="366.93" width="1.68" height="9.70" fill="#b9d702"/>
<rect x="301.31" y="366.93" width="1.42" height="9.70" fill="#61ae07"/>
<rect x="302.58" y="366.93" width="2.44" height="9.70" fill="#f6f6f6"/>
<rect x="304.87" y="366.93" width="6.00" height="9.70" fill="#3c9d08"/>
<rect x="310.73" y="366.93" width="2.70" height="9.70" fill="#087104"/>
<rect x="68.00" y="380.80" width="1.75" height="9.70" fill="#ffaa00"/>
<rect x="69.60" y="380.80" width="8.55" height="9.70" fill="#ff7d00"/>
<rect x="78.00" y="380.80" width="11.60" height="9.70" fill="#ff4400"/>
<rect x="89.45" y="380.80" width="10.33" height="9.70" fill="#ff7100"/>
<rect x="99.64" y="380.80" width="11.60" height="9.70" fill="#ff9900"/>
<rect x="111.09" y="380.80" width="11.60" height="9.70" fill="#ffe300"/>
<rect x="122.55" y="380.80" width="5.24" height="9.70" fill="#ff5500"/>
<rect x="127.64" y="380.80" width="1.42" height="9.70" fill="#ffe300"/>
<rect x="128.91" y="380.80" width="1.93" height="9.70" fill="#ff5500"/>
<rect x="130.69" y="380.80" width="1.17" height="9.70" fill="#ffe300"/>
<rect x="131.71" y="380.80" width="1.68" height="9.70" fill="#ff7100"/>
<rect x="133.24" y="380.80" width="6.77" height="9.70" fill="#ffff00"/>
<rect x="139.85" y="380.80" width="3.71" height="9.70" fill="#f6f6f6"/>
<rect x="143.42" y="380.80" width="1.68" height="9.70" fill="#b9d702"/>
<rect x="144.95" y="380.80" width="3.20" height="9.70" fill="#f6f6f6"/>
<rect x="148.00" y="380.80" width="7.79" height="9.70" fill="#ffff00"/>
<rect x="155.64" y="380.80" width="11.60" height="9.70" fill="#ff6000"/>
<rect x="167.09" y="380.80" width="10.33" height="9.70" fill="#ffe300"/>
<rect x="177.27" y="380.80" width="1.42" height="9.70" fill="#fff600"/>
<rect x="178.55" y="380.80" width="10.33" height="9.70" fill="#ffe300"/>
<rect x="188.73" y="380.80" width="2.19" height="9.70" fill="#ffff00"/>
<rect x="190.76" y="380.80" width="8.30" height="9.70" fill="#fff600"/>
<rect x="198.91" y="380.80" width="3.24" height="9.70" fill="#ffaa00"/>
<rect x="202.00" y="380.80" width="1.97" height="9.70" fill="#ffaa00"/>
<rect x="203.82" y="380.80" width="7.79" height="9.70" fill="#ff9900"/>
<rect x="211.45" y="380.80" width="11.10" height="9.70" fill="#ffd200"/>
<rect x="222.40" y="380.80" width="6.26" height="9.70" fill="#fff100"/>
<rect x="228.51" y="380.80" width="1.68" height="9.70" fill="#f6f6f6"/>
<rect x="230.04" y="380.80" width="14.66" height="9.70" fill="#fff600"/>
<rect x="244.55" y="380.80" width="2.70" height="9.70" fill="#ffe300"/>
<rect x="247.09" y="380.80" width="1.42" height="9.70" fill="#f6f6f6"/>
<rect x="248.36" y="380.80" width="1.68" height="9.70" fill="#ffe300"/>
<rect x="249.89" y="380.80" width="1.17" height="9.70" fill="#ffff00"/>
<rect x="250.91" y="380.80" width="4.73" height="9.70" fill="#ffc600"/>
<rect x="255.49" y="380.80" width="11.35" height="9.70" fill="#ff9900"/>
<rect x="266.69" y="380.80" width="22.55" height="9.70" fill="#ff7100"/>
<rect x="289.09" y="380.80" width="10.84" height="9.70" fill="#ff4f00"/>
<rect x="299.78" y="380.80" width="8.55" height="9.70" fill="#a6ce03"/>
<rect x="68.00" y="394.68" width="1.75" height="9.70" fill="#ff8e00"/>
<rect x="69.60" y="394.68" width="1.17" height="9.70" fill="#f6f6f6"/>
<rect x="70.62" y="394.68" width="3.71" height="9.70" fill="#ffaa00"/>
<rect x="74.18" y="394.68" width="1.42" height="9.70" fill="#ffe300"/>
<rect x="75.45" y="394.68" width="2.70" height="9.70" fill="#ff8e00"/>
<rect x="78.00" y="394.68" width="11.60" height="9.70" fill="#ff3900"/>
<rect x="89.45" y="394.68" width="10.33" height="9.70" fill="#ff8e00"/>
<rect x="99.64" y="394.68" width="11.60" height="9.70" fill="#ffb500"/>
<rect x="111.09" y="394.68" width="3.97" height="9.70" fill="#ff8e00"/>
<rect x="114.91" y="394.68" width="1.42" height="9.70" fill="#ffe300"/>
<rect x="116.18" y="394.68" width="6.51" height="9.70" fill="#ff9900"/>
<rect x="122.55" y="394.68" width="2.70" height="9.70" fill="#ffaa00"/>
<rect x="125.09" y="394.68" width="1.42" height="9.70" fill="#f6f6f6"/>
<rect x="126.36" y="394.68" width="7.02" height="9.70" fill="#ffc600"/>
<rect x="133.24" y="394.68" width="11.86" height="9.70" fill="#ffaa00"/>
<rect x="144.95" y="394.68" width="1.93" height="9.70" fill="#ffff00"/>
<rect x="146.73" y="394.68" width="2.19" height="9.70" fill="#f6f6f6"/>
<rect x="148.76" y="394.68" width="7.02" height="9.70" fill="#dfec00"/>
<rect x="155.64" y="394.68" width="11.60" height="9.70" fill="#ffaa00"/>
<rect x="167.09" y="394.68" width="6.00" height="9.70" fill="#f6f6f6"/>
<rect x="172.95" y="394.68" width="4.48" height="9.70" fill="#8ac005"/>
<rect x="177.27" y="394.68" width="11.60" height="9.70" fill="#ff8e00"/>
<rect x="188.73" y="394.68" width="10.33" height="9.70" fill="#ffc600"/>
<rect x="198.91" y="394.68" width="3.24" height="9.70" fill="#61ae07"/>
<rect x="202.00" y="394.68" width="1.97" height="9.70" fill="#61ae07"/>
<rect x="203.82" y="394.68" width="3.46" height="9.70" fill="#f6f6f6"/>
<rect x="207.13" y="394.68" width="1.42" height="9.70" fill="#61ae07"/>
<rect x="208.40" y="394.68" width="1.93" height="9.70" fill="#f6f6f6"/>
<rect x="210.18" y="394.68" width="1.42" height="9.70" fill="#b9d702"/>
<rect x="211.45" y="394.68" width="11.10" height="9.70" fill="#ffd200"/>
<rect x="222.40" y="394.68" width="10.84" height="9.70" fill="#ffc600"/>
<rect x="233.09" y="394.68" width="2.70" height="9.70" fill="#ffff00"/>
<rect x="235.64" y="394.68" width="2.19" height="9.70" fill="#f6f6f6"/>
<rect x="237.67" y="394.68" width="7.02" height="9.70" fill="#78b806"/>
<rect x="244.55" y="394.68" width="6.51" height="9.70" fill="#f2f700"/>
<rect x="250.91" y="394.68" width="2.70" height="9.70" fill="#f6f6f6"/>
<rect x="253.45" y="394.68" width="2.19" height="9.70" fill="#ffe300"/>
<rect x="255.49" y="394.68" width="11.35" height="9.70" fill="#ffe300"/>
<rect x="266.69" y="394.68" width="11.10" height="9.70" fill="#ff5500"/>
<rect x="277.64" y="394.68" width="5.24" height="9.70" fill="#ff7d00"/>
<rect x="282.73" y="394.68" width="1.42" height="9.70" fill="#ffc600"/>
<rect x="284.00" y="394.68" width="3.97" height="9.70" fill="#ff7d00"/>
<rect x="287.82" y="394.68" width="1.42" height="9.70" fill="#f6f6f6"/>
<rect x="289.09" y="394.68" width="2.19" height="9.70" fill="#208c0a"/>
<rect x="291.13" y="394.68" width="1.42" height="9.70" fill="#f6f6f6"/>
<rect x="292.40" y="394.68" width="2.70" height="9.70" fill="#14860a"/>
<rect x="68.00" y="408.55" width="10.15" height="9.70" fill="#8ac005"/>
<rect x="78.00" y="408.55" width="6.51" height="9.70" fill="#ffe800"/>
<rect x="84.36" y="408.55" width="1.42" height="9.70" fill="#fff900"/>
<rect x="85.64" y="408.55" width="3.97" height="9.70" fill="#ffe800"/>
<rect x="89.45" y="408.55" width="10.33" height="9.70" fill="#b9d702"/>
<rect x="99.64" y="408.55" width="11.60" height="9.70" fill="#a6ce03"/>
<rect x="111.09" y="408.55" width="11.60" height="9.70" fill="#ffff00"/>
<rect x="122.55" y="408.55" width="10.84" height="9.70" fill="#ff8e00"/>
<rect x="133.24" y="408.55" width="11.86" height="9.70" fill="#ffff00"/>
<rect x="144.95" y="408.55" width="10.84" height="9.70" fill="#d2e400"/>
<rect x="155.64" y="408.55" width="11.60" height="9.70" fill="#ff6000"/>
<rect x="167.09" y="408.55" width="10.33" height="9.70" fill="#ff6000"/>
<rect x="177.27" y="408.55" width="1.42" height="9.70" fill="#ffaa00"/>
<rect x="178.55" y="408.55" width="10.33" height="9.70" fill="#ff8e00"/>
<rect x="188.73" y="408.55" width="1.42" height="9.70" fill="#ffc600"/>
<rect x="190.00" y="408.55" width="10.33" height="9.70" fill="#ff8e00"/>
<rect x="200.18" y="408.55" width="1.97" height="9.70" fill="#ffaa00"/>
<rect x="202.00" y="408.55" width="8.33" height="9.70" fill="#ff9900"/>
<rect x="210.18" y="408.55" width="1.42" height="9.70" fill="#ffe300"/>
<rect x="211.45" y="408.55" width="2.70" height="9.70" fill="#ffff00"/>
<rect x="214.00" y="408.55" width="2.70" height="9.70" fill="#f6f6f6"/>
<rect x="216.55" y="408.55" width="6.00" height="9.70" fill="#fff600"/>
<rect x="222.40" y="408.55" width="10.84" height="9.70" fill="#ffd200"/>
<rect x="233.09" y="408.55" width="2.19" height="9.70" fill="#f6f6f6"/>
<rect x="235.13" y="408.55" width="1.93" height="9.70" fill="#208c0a"/>
<rect x="236.91" y="408.55" width="1.42" height="9.70" fill="#f6f6f6"/>
<rect x="238.18" y="408.55" width="1.93" height="9.70" fill="#208c0a"/>
<rect x="239.96" y="408.55" width="0.91" height="9.70" fill="#f6f6f6"/>
<rect x="240.73" y="408.55" width="1.68" height="9.70" fill="#3c9d08"/>
<rect x="242.25" y="408.55" width="0.91" height="9.70" fill="#f6f6f6"/>
<rect x="243.02" y="408.55" width="1.68" height="9.70" fill="#3c9d08"/>
<rect x="244.55" y="408.55" width="1.42" height="9.70" fill="#f6f6f6"/>
<rect x="245.82" y="408.55" width="2.19" height="9.70" fill="#3c9d08"/>
<rect x="247.85" y="408.55" width="3.20" height="9.70" fill="#f6f6f6"/>
<rect x="250.91" y="408.55" width="2.19" height="9.70" fill="#208c0a"/>
<rect x="252.95" y="408.55" width="0.91" height="9.70" fill="#f6f6f6"/>
<rect x="253.71" y="408.55" width="1.93" height="9.70" fill="#208c0a"/>
<rect x="255.49" y="408.55" width="11.35" height="9.70" fill="#78b806"/>
<rect x="266.69" y="408.55" width="2.19" height="9.70" fill="#0c7906"/>
<rect x="268.73" y="408.55" width="2.70" height="9.70" fill="#f6f6f6"/>
<rect x="271.27" y="408.55" width="2.70" height="9.70" fill="#42a008"/>
<rect x="68.00" y="422.42" width="1.24" height="9.70" fill="#61ae07"/>
<rect x="69.09" y="422.42" width="2.70" height="9.70" fill="#f6f6f6"/>
<rect x="71.64" y="422.42" width="1.42" height="9.70" fill="#61ae07"/>
<rect x="72.91" y="422.42" width="1.42" height="9.70" fill="#f6f6f6"/>
<rect x="74.18" y="422.42" width="3.97" height="9.70" fill="#b9d702"/>
<rect x="78.00" y="422.42" width="11.60" height="9.70" fill="#ffff00"/>
<rect x="89.45" y="422.42" width="2.19" height="9.70" fill="#14860a"/>
<rect x="91.49" y="422.42" width="1.17" height="9.70" fill="#f6f6f6"/>
<rect x="92.51" y="422.42" width="2.70" height="9.70" fill="#14860a"/>
<rect x="95.05" y="422.42" width="1.17" height="9.70" fill="#f6f6f6"/>
<rect x="96.07" y="422.42" width="1.68" height="9.70" fill="#208c0a"/>
<rect x="97.60" y="422.42" width="1.17" height="9.70" fill="#8ac005"/>
<rect x="98.62" y="422.42" width="1.68" height="9.70" fill="#3c9d08"/>
<rect x="100.15" y="422.42" width="3.46" height="9.70" fill="#b9d702"/>
<rect x="103.45" y="422.42" width="7.79" height="9.70" fill="#d2e400"/>
<rect x="111.09" y="422.42" width="3.97" height="9.70" fill="#ffaa00"/>
<rect x="114.91" y="422.42" width="1.42" height="9.70" fill="#ffe300"/>
<rect x="116.18" y="422.42" width="2.70" height="9.70" fill="#ffc600"/>
<rect x="118.73" y="422.42" width="1.42" height="9.70" fill="#f6f6f6"/>
<rect x="120.00" y="422.42" width="5.24" height="9.70" fill="#ffc600"/>
<rect x="125.09" y="422.42" width="1.68" height="9.70" fill="#f6f6f6"/>
<rect x="126.62" y="422.42" width="6.77" height="9.70" fill="#f2f700"/>
<rect x="133.24" y="422.42" width="3.46" height="9.70" fill="#ff8e00"/>
<rect x="136.55" y="422.42" width="1.42" height="9.70" fill="#ffc600"/>
<rect x="137.82" y="422.42" width="7.28" height="9.70" fill="#ff9900"/>
<rect x="144.95" y="422.42" width="10.84" height="9.70" fill="#ffaa00"/>
<rect x="155.64" y="422.42" width="11.60" height="9.70" fill="#ff6000"/>
<rect x="167.09" y="422.42" width="10.33" height="9.70" fill="#ff7d00"/>
<rect x="177.27" y="422.42" width="11.60" height="9.70" fill="#ffb500"/>
<rect x="188.73" y="422.42" width="10.33" height="9.70" fill="#ffc600"/>
<rect x="198.91" y="422.42" width="3.24" height="9.70" fill="#ff9900"/>
<rect x="202.00" y="422.42" width="5.79" height="9.70" fill="#ffd200"/>
<rect x="207.64" y="422.42" width="1.42" height="9.70" fill="#ffee00"/>
<rect x="208.91" y="422.42" width="2.70" height="9.70" fill="#ffd200"/>
<rect x="211.45" y="422.42" width="11.10" height="9.70" fill="#ffaa00"/>
<rect x="222.40" y="422.42" width="10.84" height="9.70" fill="#ff8e00"/>
<rect x="233.09" y="422.42" width="11.60" height="9.70" fill="#ffe800"/>
<rect x="244.55" y="422.42" width="11.10" height="9.70" fill="#ffc600"/>
<rect x="255.49" y="422.42" width="7.02" height="9.70" fill="#b9d702"/>
<rect x="68.00" y="436.29" width="10.15" height="9.70" fill="#fff900"/>
<rect x="78.00" y="436.29" width="11.60" height="9.70" fill="#b9d702"/>
<rect x="89.45" y="436.29" width="10.33" height="9.70" fill="#f2f700"/>
<rect x="99.64" y="436.29" width="11.60" height="9.70" fill="#f2f700"/>
<rect x="111.09" y="436.29" width="11.60" height="9.70" fill="#b9d702"/>
<rect x="122.55" y="436.29" width="10.84" height="9.70" fill="#8ac005"/>
<rect x="133.24" y="436.29" width="11.86" height="9.70" fill="#61ae07"/>
<rect x="144.95" y="436.29" width="10.84" height="9.70" fill="#b9d702"/>
<rect x="155.64" y="436.29" width="11.60" height="9.70" fill="#b9d702"/>
<rect x="167.09" y="436.29" width="10.33" height="9.70" fill="#fff900"/>
<rect x="177.27" y="436.29" width="11.60" height="9.70" fill="#dfec00"/>
<rect x="188.73" y="436.29" width="10.33" height="9.70" fill="#f2f700"/>
<rect x="198.91" y="436.29" width="3.24" height="9.70" fill="#d2e400"/>
<rect x="202.00" y="436.29" width="20.55" height="9.70" fill="#ffc600"/>
<rect x="222.40" y="436.29" width="10.84" height="9.70" fill="#ff3900"/>
<rect x="233.09" y="436.29" width="10.84" height="9.70" fill="#fff100"/>
<rect x="243.78" y="436.29" width="1.68" height="9.70" fill="#208c0a"/>
</g>
<rect x="392.4" y="341.50" width="11.5" height="9.60" fill="#f0f0f0"/>
<text class="ss" x="405.0" y="349.10" font-size="7.8" fill="#111">0</text>
<rect x="392.4" y="351.05" width="11.5" height="9.60" fill="#14860a"/>
<text class="ss" x="405.0" y="358.65" font-size="7.8" fill="#111">398</text>
<rect x="392.4" y="360.60" width="11.5" height="9.60" fill="#42a008"/>
<text class="ss" x="405.0" y="368.20" font-size="7.8" fill="#111">796</text>
<rect x="392.4" y="370.15" width="11.5" height="9.60" fill="#80bb06"/>
<text class="ss" x="405.0" y="377.75" font-size="7.8" fill="#111">1194</text>
<rect x="392.4" y="379.70" width="11.5" height="9.60" fill="#cce000"/>
<text class="ss" x="405.0" y="387.30" font-size="7.8" fill="#111">1592</text>
<rect x="392.4" y="389.25" width="11.5" height="9.60" fill="#ffff00"/>
<text class="ss" x="405.0" y="396.85" font-size="7.8" fill="#111">1990</text>
<rect x="392.4" y="398.80" width="11.5" height="9.60" fill="#ffcc00"/>
<text class="ss" x="405.0" y="406.40" font-size="7.8" fill="#111">2388</text>
<rect x="392.4" y="408.35" width="11.5" height="9.60" fill="#ff9900"/>
<text class="ss" x="405.0" y="415.95" font-size="7.8" fill="#111">2786</text>
<rect x="392.4" y="417.90" width="11.5" height="9.60" fill="#ff6600"/>
<text class="ss" x="405.0" y="425.50" font-size="7.8" fill="#111">3184</text>
<rect x="392.4" y="427.45" width="11.5" height="9.60" fill="#ff3300"/>
<text class="ss" x="405.0" y="435.05" font-size="7.8" fill="#111">3582</text>
<rect x="392.4" y="437.00" width="11.5" height="9.60" fill="#ff0000"/>
<text class="ss" x="405.0" y="444.60" font-size="7.8" fill="#111">3980</text>
</g>
</svg></body></html>
